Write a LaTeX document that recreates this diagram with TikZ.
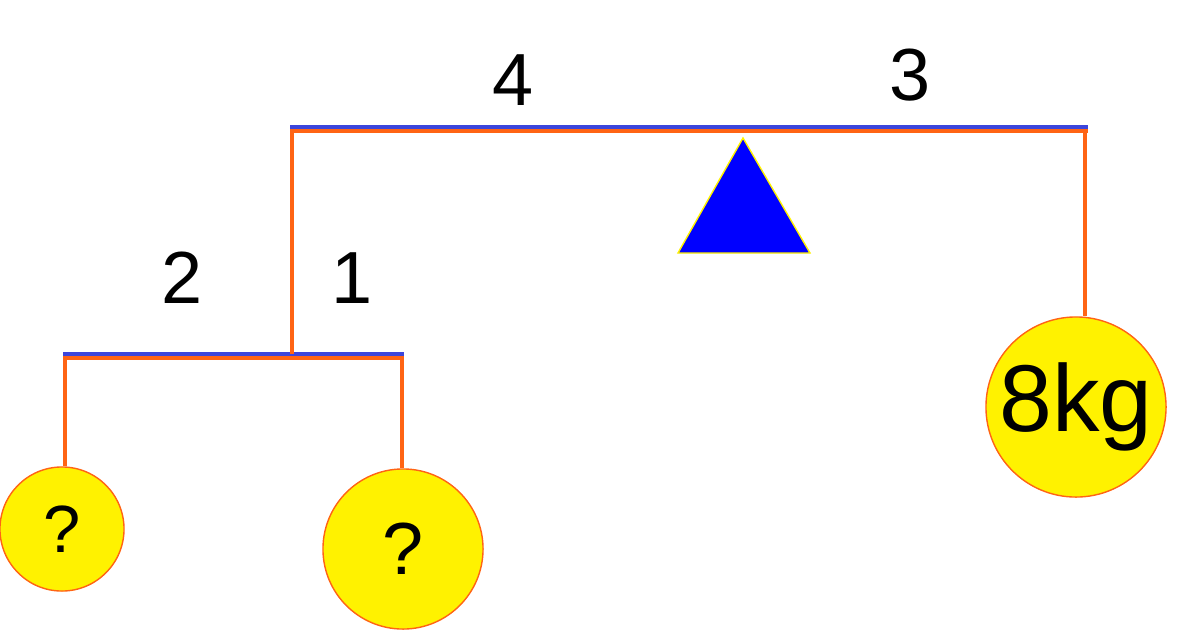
\documentclass[tikz,border=0pt]{standalone}
\usepackage{fontspec}
\setmainfont{Liberation Sans}
\begin{document}
\begin{tikzpicture}[x=0.01cm,y=-0.01cm,
  beam/.style={draw={rgb,255:red,60;green,70;blue,220},line width=1.4pt},
  rope/.style={draw={rgb,255:red,255;green,100;blue,20},line width=1.1pt},
  ball/.style={circle,fill=yellow,draw={rgb,255:red,255;green,100;blue,20},line width=0.4pt,inner sep=0pt},
  lbl/.style={font=\fontsize{21}{24}\selectfont}]
\useasboundingbox (0,0) rectangle (1200,630);
\coordinate (T1) at (290,127); \coordinate (T2) at (1088,127);
\coordinate (L1) at (63,354); \coordinate (L2) at (404,354);
\draw[rope] (290,131) -- (1088,131);
\draw[beam] (T1) -- (T2);
\draw[rope] (63,358) -- (404,358);
\draw[beam] (L1) -- (L2);
\node[ball,minimum size=1.8cm] (W) at (1076,407) {};
\node (Wt) at (W.center) {\fontsize{27}{30}\selectfont 8kg};
\node[ball,minimum size=1.24cm] (A) at (62,529) {\fontsize{19}{22}\selectfont ?};
\node[ball,minimum size=1.6cm] (B) at (403,549) {\fontsize{21}{24}\selectfont ?};
\coordinate (P1) at (292,131); \coordinate (P2) at (292,354);
\coordinate (R1) at (1085,131); \coordinate (A1) at (65,358); \coordinate (B1) at (402,358);
\draw[rope] (P1) -- (P2);
\draw[rope] (R1) -- (W.north -| R1);
\draw[rope] (A1) -- (A.north -| A1);
\draw[rope] (B1) -- (B.north -| B1);
\draw[fill=blue,draw=yellow,line width=0.4pt] (743,138) -- (810,253) -- (678,253) -- cycle;
\node[lbl] (n4) at (513,80) {4};
\node[lbl] (n3) at (910,75) {3};
\node[lbl] (n2) at (182,278) {2};
\node[lbl] (n1) at (352,278) {1};
\end{tikzpicture}
\end{document}
